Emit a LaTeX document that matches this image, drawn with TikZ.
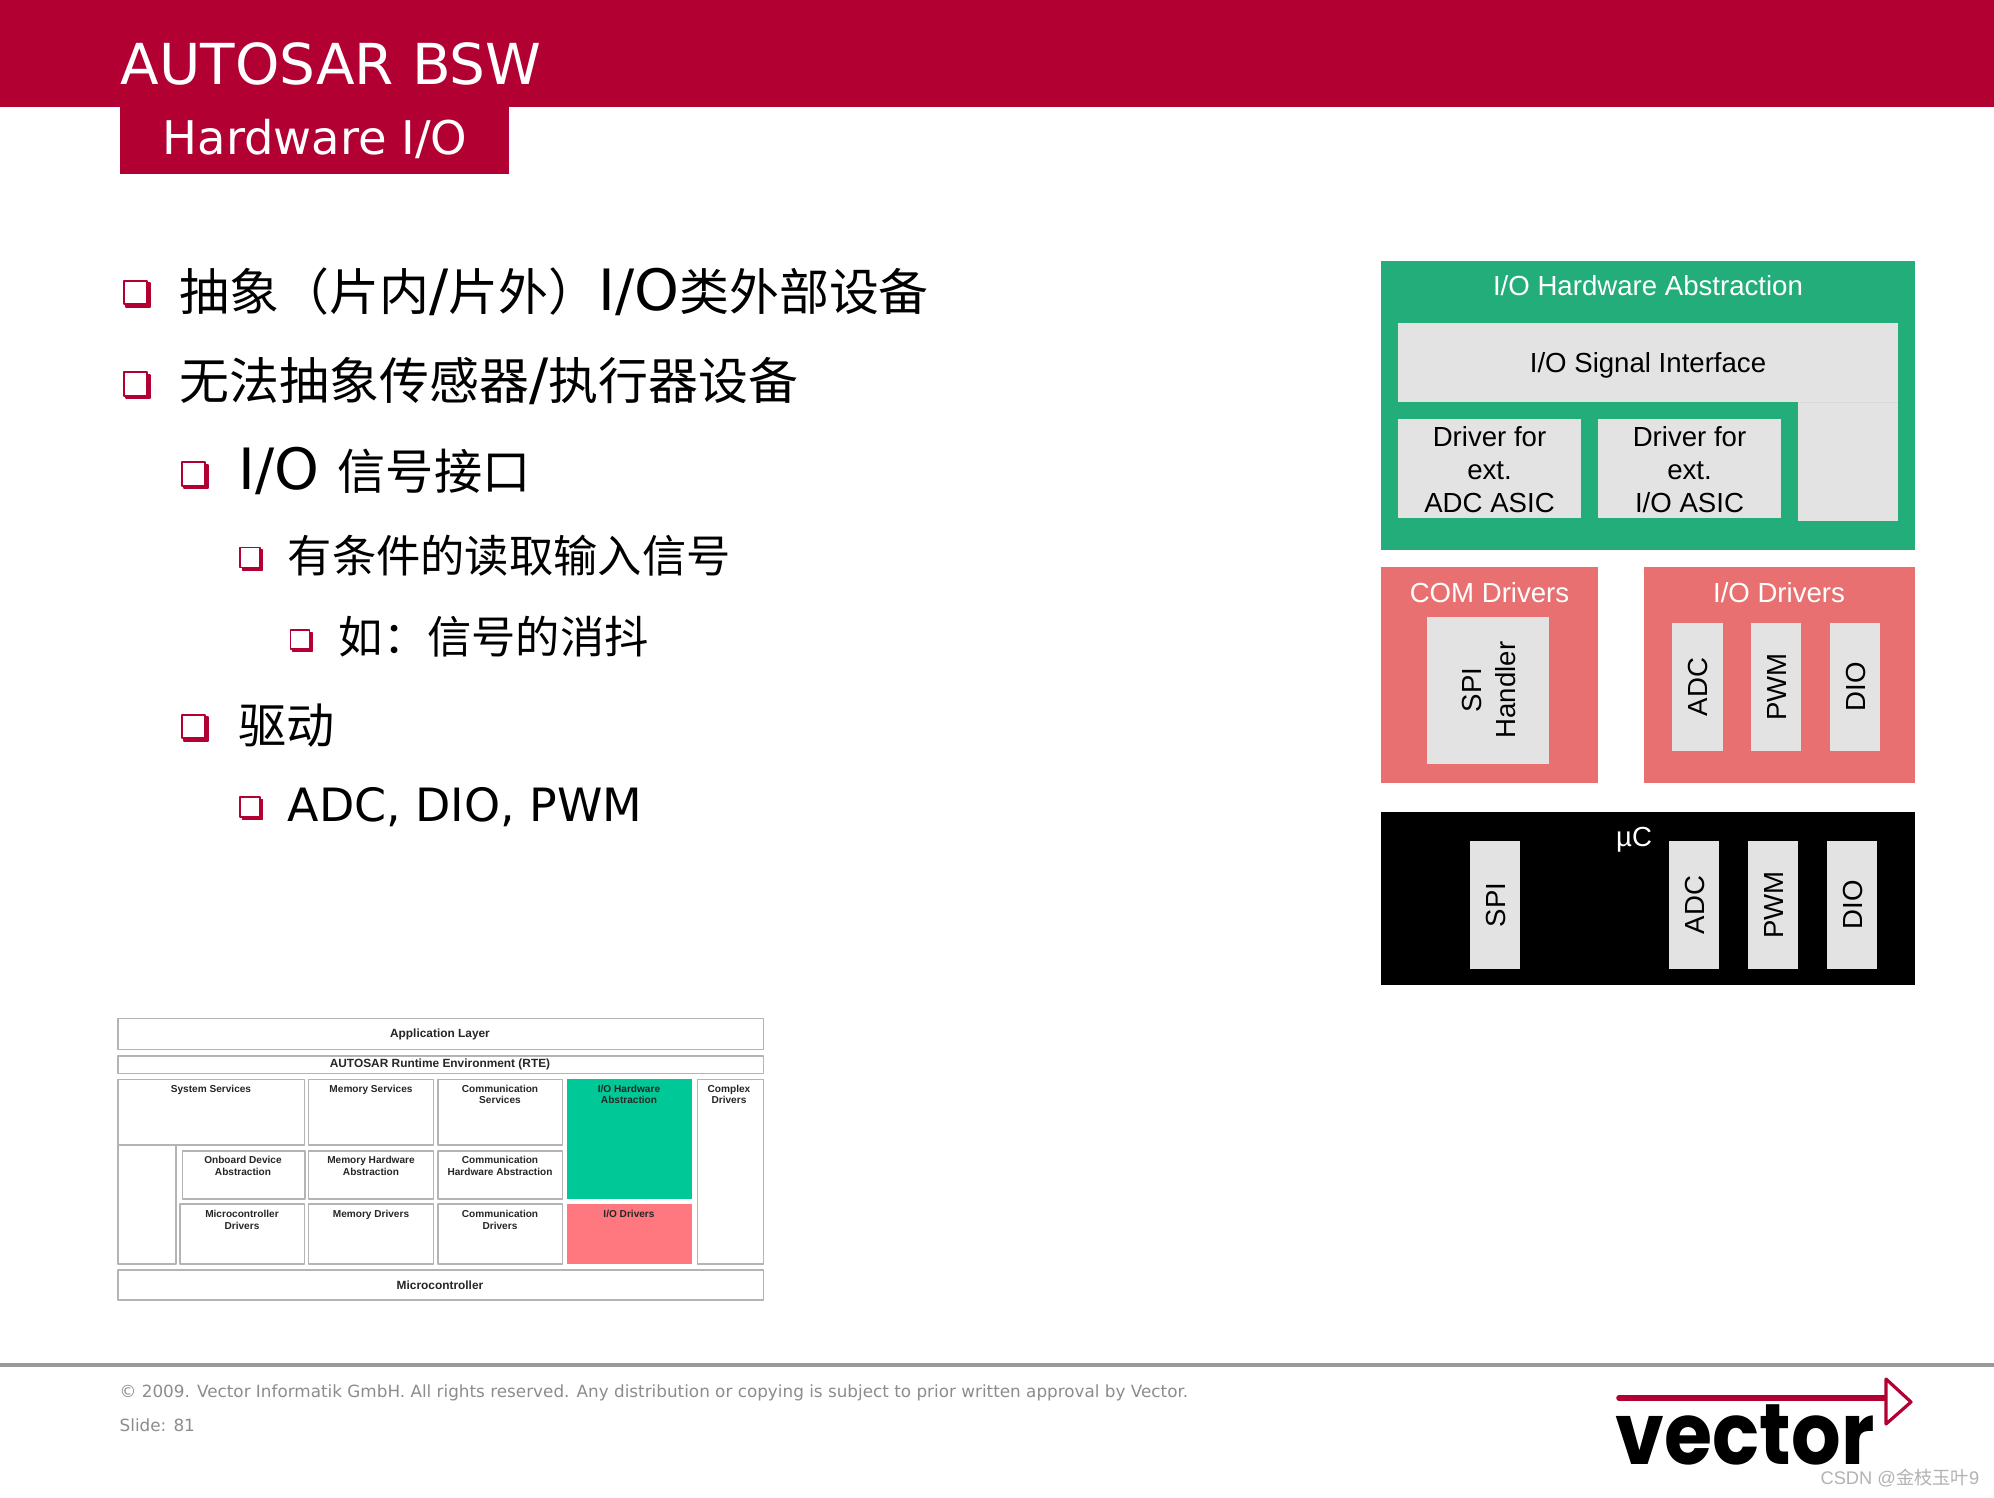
\documentclass[tikz,border=0pt]{standalone}
\usepackage{fontspec}
\setmainfont{DejaVu Sans}
\newfontfamily\cjk{Noto Sans CJK SC}
\newfontfamily\arial{Liberation Sans}
\newfontfamily\logofont{Poppins}
\usetikzlibrary{shadows}
\definecolor{vred}{HTML}{B20032}
\definecolor{hwgreen}{HTML}{22AD7B}
\definecolor{drvred}{HTML}{E87070}
\definecolor{boxgray}{HTML}{E3E3E3}
\definecolor{smallgreen}{HTML}{00C896}
\definecolor{smallred}{HTML}{FF7880}
\definecolor{smallline}{HTML}{B4B4B4}
\newcommand{\lat}[1]{{\fontsize{16.2}{17}\selectfont #1}}
\tikzset{
	bul/.style={draw=vred,fill=white,line width=.5pt,inner sep=0pt,minimum size=#1,
		copy shadow={draw=vred,fill=vred,shadow xshift=.7pt,shadow yshift=-.7pt}},
	bigline/.style={anchor=base west,inner sep=0pt,font=\fontsize{14.2}{17}\selectfont},
	midline/.style={anchor=base west,inner sep=0pt,font=\fontsize{12.6}{15}\selectfont},
	lab/.style={inner sep=0pt,align=center,font=\arial\fontsize{7.85}{9.4}\selectfont},
	tiny/.style={inner sep=0pt,align=center,anchor=north,text=black!85,font=\arial\bfseries\fontsize{2.87}{3.3}\selectfont},
	wide/.style={inner sep=0pt,text=black!85,font=\arial\bfseries\fontsize{3.38}{4}\selectfont},
	smallbox/.style={draw=smallline,line width=.45pt,fill=white},
	foot/.style={anchor=base west,inner sep=0pt,text=black!45,font=\fontsize{4.78}{6}\selectfont}
}
\begin{document}
\begin{tikzpicture}[x=0.01cm,y=-0.01cm,line join=round]
	\useasboundingbox (0,0) rectangle (1994,1497);
	% header
	\fill[vred] (0,0) rectangle (1994,107);
	\fill[vred] (120,107) rectangle (509,174);
	\node[anchor=base west,inner sep=0pt,text=white,font=\fontsize{16.05}{20}\selectfont] (title) at (120,85) {AUTOSAR BSW};
	\node[anchor=base west,inner sep=0pt,text=white,font=\fontsize{13.2}{16}\selectfont] (subtitle) at (162,155) {Hardware I/O};

	% bullets
	\node[bul=.235cm] (b1) at (135.5,292.5) {};
	\node[bul=.235cm] (b2) at (135.5,384) {};
	\node[bul=.235cm] (b3) at (193.5,474) {};
	\node[bul=.2cm] (b4) at (250,557.5) {};
	\node[bul=.19cm] (b5) at (300,639.5) {};
	\node[bul=.235cm] (b6) at (193.5,726.5) {};
	\node[bul=.2cm] (b7) at (250,807) {};
	\node[bigline] (t1) at (179,310) {{\cjk 抽象（片内}\lat{/}{\cjk 片外）}\lat{I/O}{\cjk 类外部设备}};
	\node[bigline] (t2) at (179,399) {{\cjk 无法抽象传感器}\lat{/}{\cjk 执行器设备}};
	\node[bigline,font=\fontsize{13.7}{17}\selectfont] (t3) at (238,489) {\lat{I/O }{\cjk 信号接口}};
	\node[midline] (t4) at (287,572) {\cjk 有条件的读取输入信号};
	\node[midline] (t5) at (338,653) {\cjk 如：信号的消抖};
	\node[bigline,font=\fontsize{13.7}{17}\selectfont] (t6) at (238,743) {\cjk 驱动};
	\node[anchor=base west,inner sep=0pt,font=\fontsize{13.05}{16}\selectfont] (t7) at (287,821) {ADC, DIO, PWM};

	% I/O hardware abstraction
	\fill[hwgreen] (1381,261) rectangle (1914.5,549.5);
	\node[lab,text=white] (hwtitle) at (1648,286) {I/O Hardware Abstraction};
	\fill[boxgray] (1398,323) rectangle (1898,402);
	\fill[boxgray] (1798,402) rectangle (1898,521);
	\draw[black!15,line width=.2pt] (1798,402) -- (1898,402);
	\node[lab] (signal) at (1648,365.5) {I/O Signal Interface};
	\fill[boxgray] (1398,419) rectangle (1581,518);
	\fill[boxgray] (1598,419) rectangle (1781,518);
	\node[lab] (extadc) at (1489.5,470) {Driver for\\ext.\\ADC ASIC};
	\node[lab] (extio) at (1689.5,470) {Driver for\\ext.\\I/O ASIC};

	% drivers
	\fill[drvred] (1381,567) rectangle (1598,783);
	\fill[drvred] (1644,567) rectangle (1914.5,783);
	\node[lab,text=white] (comtitle) at (1489.5,593) {COM Drivers};
	\node[lab,text=white] (iotitle) at (1779,593) {I/O Drivers};
	\fill[boxgray] (1426.5,617) rectangle (1549,764);
	\node[lab,rotate=90] (spih) at (1489,690) {SPI\\Handler};
	\fill[boxgray] (1672,623) rectangle (1722.5,751);
	\fill[boxgray] (1751,623) rectangle (1801,751);
	\fill[boxgray] (1830,623) rectangle (1880,751);
	\node[lab,rotate=90] (adc) at (1698,687) {ADC};
	\node[lab,rotate=90] (pwm) at (1777,687) {PWM};
	\node[lab,rotate=90] (dio) at (1856,687) {DIO};

	% microcontroller
	\fill[black] (1381,812) rectangle (1914.5,985);
	\node[lab,text=white] (uc) at (1634,840) {µC};
	\fill[boxgray] (1470,841) rectangle (1520,969);
	\fill[boxgray] (1669,841) rectangle (1719,969);
	\fill[boxgray] (1748,841) rectangle (1798,969);
	\fill[boxgray] (1827,841) rectangle (1877,969);
	\node[lab,rotate=90] (ucspi) at (1496,905) {SPI};
	\node[lab,rotate=90] (ucadc) at (1695,905) {ADC};
	\node[lab,rotate=90] (ucpwm) at (1774,905) {PWM};
	\node[lab,rotate=90] (ucdio) at (1853,905) {DIO};

	% small layer picture
	\draw[smallbox] (118,1018.5) rectangle (763.5,1049.5);
	\node[wide] (app) at (440,1034.5) {Application Layer};
	\draw[smallbox] (118,1055.7) rectangle (763.5,1073.3);
	\node[wide] (rte) at (440,1064) {AUTOSAR Runtime Environment (RTE)};
	\draw[smallbox] (118,1079.3) rectangle (304.7,1145);
	\draw[smallbox] (308.6,1079.3) rectangle (433.5,1145);
	\draw[smallbox] (438,1079.3) rectangle (562.7,1145);
	\fill[smallgreen] (567,1079.3) rectangle (691.5,1199);
	\draw[smallbox] (697.6,1079.3) rectangle (763.5,1264);
	\draw[smallbox] (118,1145) rectangle (176,1264);
	\draw[smallbox] (182.4,1150.7) rectangle (305,1199);
	\draw[smallbox] (308.6,1150.7) rectangle (433.5,1199);
	\draw[smallbox] (438,1150.7) rectangle (562.7,1199);
	\draw[smallbox] (180,1204) rectangle (304.7,1264);
	\draw[smallbox] (308.6,1204) rectangle (433.5,1264);
	\draw[smallbox] (438,1204) rectangle (562.7,1264);
	\fill[smallred] (567,1204) rectangle (691.5,1264);
	\draw[smallbox] (118,1270) rectangle (763.5,1299.7);
	\node[tiny] (s1) at (211,1084) {System Services};
	\node[tiny] (s2) at (371,1084) {Memory Services};
	\node[tiny] (s3) at (500,1084) {Communication\\Services};
	\node[tiny] (s4) at (629,1084) {I/O Hardware\\Abstraction};
	\node[tiny] (s5) at (729,1084) {Complex\\Drivers};
	\node[tiny] (s6) at (243,1155.5) {Onboard Device\\Abstraction};
	\node[tiny] (s7) at (371,1155.5) {Memory Hardware\\Abstraction};
	\node[tiny] (s8) at (500,1155.5) {Communication\\Hardware Abstraction};
	\node[tiny] (s9) at (242,1209.5) {Microcontroller\\Drivers};
	\node[tiny] (s10) at (371,1209.5) {Memory Drivers};
	\node[tiny] (s11) at (500,1209.5) {Communication\\Drivers};
	\node[tiny] (s12) at (629,1209.5) {I/O Drivers};
	\node[wide] (micro) at (440,1285.5) {Microcontroller};

	% footer
	\fill[black!40] (0,1363) rectangle (1994,1367);
	\node[foot] (copy) at (119,1397) {© 2009. Vector Informatik GmbH. All rights reserved. Any distribution or copying is subject to prior written approval by Vector.};
	\node[foot] (slide) at (119,1431) {Slide: 81};

	% logo
	\coordinate (la) at (1619,1398);
	\coordinate (lb) at (1886,1398);
	\draw[vred,line width=1.6pt,line cap=round] (la) -- (lb);
	\draw[vred,line width=.9pt,fill=white] (1886,1379) -- (1911,1402) -- (1886,1424) -- cycle;
	\fill[vred] (1881,1395.5) rectangle (1887,1400.5);
	\node[anchor=base west,inner sep=0pt,text depth=0pt,font=\logofont\bfseries\fontsize{24.5}{30}\selectfont] (logo) at (1615,1464) {\scalebox{.905}[1]{vector}};
	\node[anchor=base east,inner sep=0pt,text=black!30,font=\arial\fontsize{5.2}{6}\selectfont] (mark) at (1980,1484) {CSDN @{\cjk 金枝玉叶}9};
\end{tikzpicture}
\end{document}
